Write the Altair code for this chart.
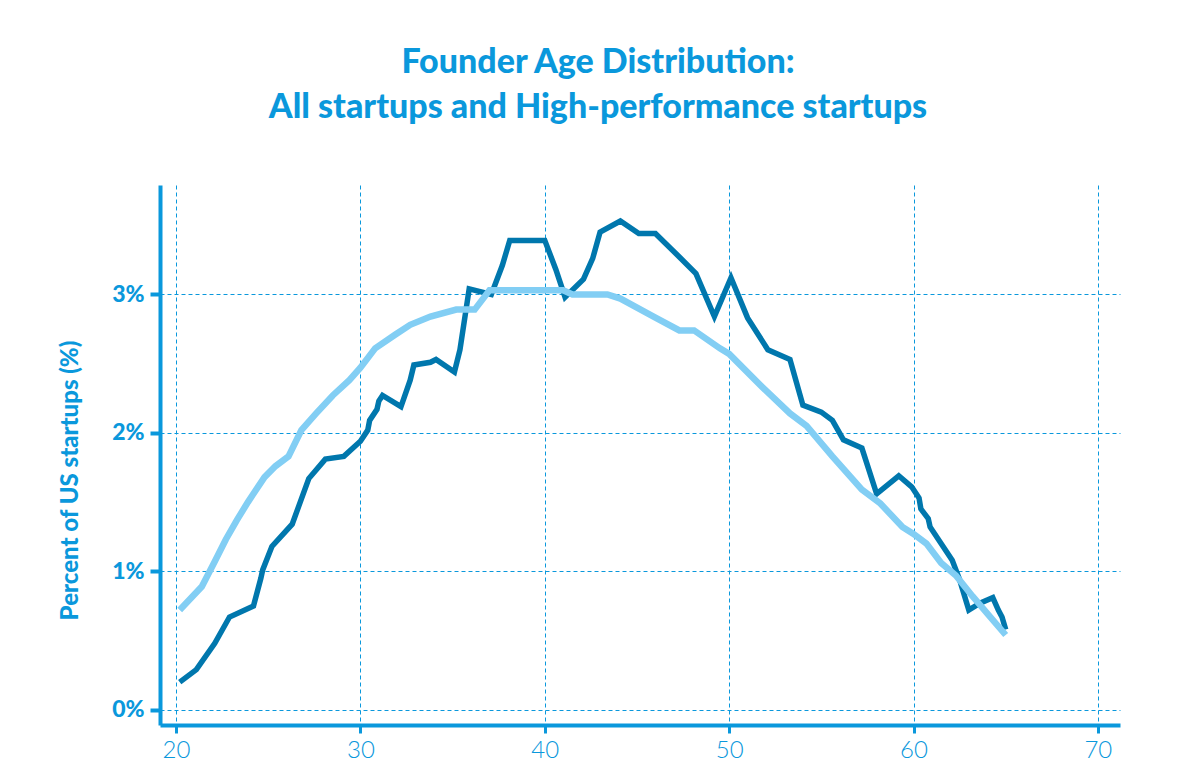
import altair as alt
import pandas as pd

all_age = [20.2, 21.4, 22.1, 22.7, 23.3, 23.9, 24.8, 25.4, 26.1, 26.8,
           27.6, 28.5, 29.4, 30.0, 30.8, 31.9, 32.7, 33.8, 35.2, 36.2,
           37.0, 41.0, 41.5, 43.4, 44.1, 45.9, 47.3, 48.1, 49.5, 50.0,
           51.8, 53.3, 54.2, 55.6, 57.2, 58.2, 59.4, 60.0, 60.7, 61.5,
           62.3, 63.2, 64.1, 65.0]
all_pct = [0.72, 0.89, 1.07, 1.23, 1.37, 1.50, 1.68, 1.76, 1.83, 2.02,
           2.14, 2.27, 2.38, 2.47, 2.61, 2.71, 2.78, 2.84, 2.89, 2.89,
           3.03, 3.03, 3.00, 3.00, 2.97, 2.84, 2.74, 2.74, 2.61, 2.57,
           2.33, 2.14, 2.05, 1.83, 1.59, 1.49, 1.32, 1.27, 1.20, 1.06,
           0.97, 0.82, 0.68, 0.54]

hp_age = [20.2, 21.1, 22.1, 22.9, 24.2, 24.6, 24.7, 25.2, 26.3, 27.2,
          28.1, 29.1, 30.0, 30.4, 30.5, 30.9, 31.0, 31.2, 32.2, 32.7,
          32.9, 33.8, 34.1, 35.1, 35.4, 35.9, 37.1, 37.7, 38.1, 40.0,
          40.6, 41.1, 42.1, 42.6, 43.0, 44.1, 45.1, 46.0, 47.3, 48.2,
          49.2, 50.1, 51.0, 52.1, 53.3, 54.0, 55.0, 55.6, 56.2, 57.2,
          58.0, 59.2, 59.9, 60.3, 60.4, 60.8, 60.9, 62.1, 62.5, 63.0,
          63.6, 64.3, 64.6, 64.8, 65.0]
hp_pct = [0.20, 0.29, 0.48, 0.67, 0.75, 0.95, 1.01, 1.18, 1.34, 1.67,
          1.81, 1.83, 1.94, 2.02, 2.09, 2.17, 2.23, 2.27, 2.19, 2.38,
          2.49, 2.51, 2.53, 2.44, 2.60, 3.04, 3.00, 3.21, 3.39, 3.39,
          3.18, 2.98, 3.11, 3.26, 3.45, 3.53, 3.44, 3.44, 3.27, 3.15,
          2.84, 3.12, 2.83, 2.60, 2.53, 2.20, 2.15, 2.09, 1.95, 1.89,
          1.56, 1.69, 1.61, 1.53, 1.45, 1.38, 1.32, 1.08, 0.94, 0.72,
          0.77, 0.81, 0.72, 0.67, 0.58]

x_ticks = [20, 30, 40, 50, 60, 70]
y_ticks = [0, 1, 2, 3]

BLUE = "#0a98dc"
DARK = "#0077ad"
LIGHT = "#82cef4"

df_all = pd.DataFrame({"age": all_age, "pct": all_pct})
df_hp = pd.DataFrame({"age": hp_age, "pct": hp_pct})

x_enc = alt.X("age:Q",
              scale=alt.Scale(domain=[19.13, 71.2], nice=False, zero=False),
              axis=alt.Axis(values=x_ticks, title=None, labelFont="Lato",
                            labelFontWeight=300, labelFontSize=24,
                            labelColor=BLUE, labelPadding=5, tickSize=8,
                            tickWidth=3, tickColor=BLUE, domainColor=BLUE,
                            domainWidth=4, grid=True, gridDash=[4, 3],
                            gridColor=BLUE, gridWidth=1))
y_enc = alt.Y("pct:Q",
              scale=alt.Scale(domain=[-0.11, 3.79], nice=False, zero=False),
              axis=alt.Axis(values=y_ticks, title="Percent of US startups (%)",
                            labelExpr="datum.value + '%'", labelFont="Lato",
                            labelFontWeight=900, labelFontSize=23,
                            labelColor=BLUE, labelPadding=6, tickSize=10,
                            tickWidth=4, tickColor=BLUE, domainColor=BLUE,
                            domainWidth=4, grid=True, gridDash=[4, 3],
                            gridColor=BLUE, gridWidth=1,
                            titleFont="Lato", titleFontSize=24,
                            titleFontWeight=900, titleColor=BLUE,
                            titleAngle=270, titleX=-90, titleY=295,
                            titleAlign="center", titleBaseline="middle"))

hp_line = alt.Chart(df_hp).mark_line(color=DARK, strokeWidth=5.5,
                                     strokeJoin="miter").encode(x=x_enc, y=y_enc)
all_line = alt.Chart(df_all).mark_line(color=LIGHT, strokeWidth=6.5,
                                       strokeJoin="miter").encode(x="age:Q", y="pct:Q")

chart = alt.layer(hp_line, all_line).properties(
    width=960, height=540,
    autosize=alt.AutoSizeParams(type="none"),
    padding={"left": 160, "top": 185, "right": 80, "bottom": 53},
    title=alt.TitleParams(
        text=["Founder Age Distribution:",
              "All startups and High-performance startups"],
        font="Lato", fontSize=34, fontWeight=900, color=BLUE,
        lineHeight=45, anchor="middle", dx=-42, offset=60),
).configure_view(stroke=None)

chart.save("out.html", embed_options={"renderer": "svg", "actions": False})
